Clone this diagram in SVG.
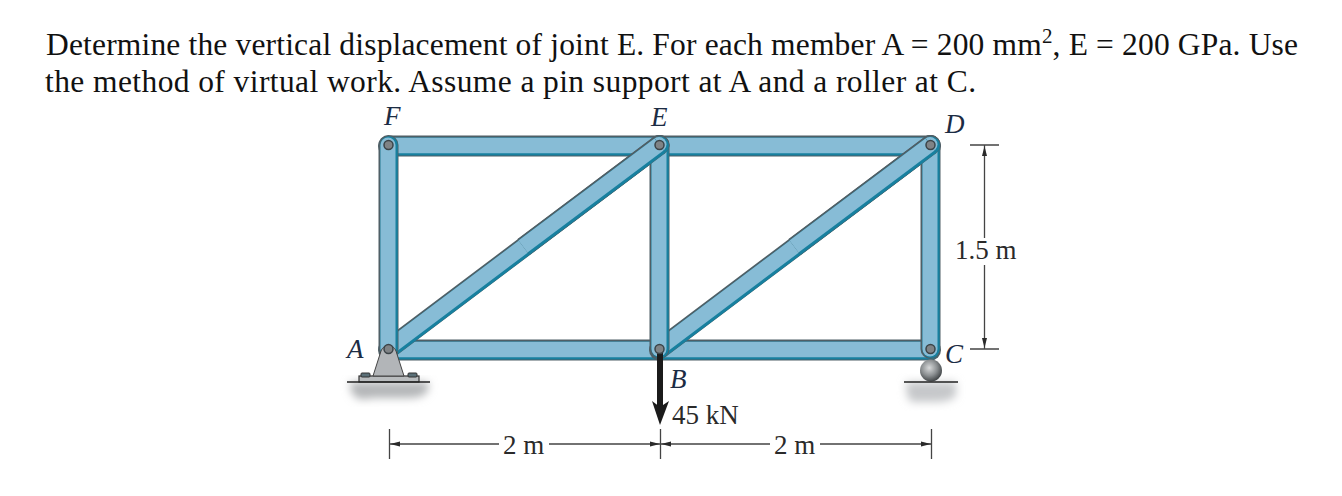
<svg xmlns="http://www.w3.org/2000/svg" width="1342" height="496" viewBox="0 0 1342 496">
<style>
text{font-family:"Liberation Serif","Times New Roman",serif;fill:#222}
.t{font-size:31.5px;fill:#111}
.l{font-size:27px;font-style:italic;fill:#1c2c44}
.d{font-size:27px;fill:#2a2a2a}
.o{stroke:#4f5f66;fill:none;stroke-linecap:round}
.m{stroke:#17809f;fill:none;stroke-linecap:round}
.h{stroke:#87bcd6;fill:none;stroke-linecap:round}
.b{stroke-linecap:butt}
.pin{fill:#7f8386;stroke:#3c4448;stroke-width:1.5}
.dim{stroke:#444;stroke-width:1.3;fill:none}
.ah{fill:#2a2a2a}
</style>
<defs>
<filter id="blur" x="-20%" y="-40%" width="140%" height="180%"><feGaussianBlur stdDeviation="4"/></filter>
<radialGradient id="ball" cx="42%" cy="38%" r="65%"><stop offset="0" stop-color="#d8dadb"/><stop offset="0.55" stop-color="#8b8f91"/><stop offset="1" stop-color="#3c4042"/></radialGradient>
<g id="hm"><path class="o" stroke-width="21" d="M0 0H271"/><path class="m" stroke-width="18" d="M0 0.5H271"/><path class="h" stroke-width="15.500" d="M0 -0.5H271"/></g>
<g id="vm"><path class="o" stroke-width="20" d="M0 0V204"/><path class="m" stroke-width="17.500" d="M0.500 0V204"/><path class="h" stroke-width="15" d="M-0.500 0V204"/></g>
<g id="dg"><path class="o" stroke-width="20" d="M0 0L271 -204"/><path class="m" stroke-width="18" d="M0.500 0.500L271.500 -203.500"/><path class="h" stroke-width="15" d="M-0.500 -0.500L270.500 -204.500"/></g>
<g id="dt"><circle cx="271" cy="-204" r="10" fill="#4f5f66"/><circle cx="271.500" cy="-203.500" r="9" fill="#17809f"/><circle cx="270.500" cy="-204.500" r="7.500" fill="#87bcd6"/><path class="o b" stroke-width="20" d="M135 -102L271 -204"/><path class="m b" stroke-width="18" d="M135.500 -101.500L271.500 -203.500"/><path class="h b" stroke-width="15" d="M134.500 -102.500L270.500 -204.500"/></g>
</defs>

<g id="title">
<text class="t" x="46" y="55" textLength="1252" lengthAdjust="spacing">Determine the vertical displacement of joint E. For each member A = 200 mm<tspan dy="-12" font-size="21">2</tspan><tspan dy="12">, E = 200 GPa. Use</tspan></text>
<text class="t" x="45" y="92" textLength="931" lengthAdjust="spacing">the method of virtual work. Assume a pin support at A and a roller at C.</text>
</g>

<g id="ground-shadows">
<path d="M350 382H428Q432 398 408 398H372Q350 404 350 382Z" fill="#b4b6b8" filter="url(#blur)"/>
<path d="M906 382H956V396Q950 402 935 402H915Q906 404 906 382Z" fill="#c6c8ca" filter="url(#blur)"/>
</g>

<g id="connectors">
<use href="#hm" x="388.5" y="146"/>
<use href="#hm" x="659.5" y="146"/>
<use href="#hm" x="388.5" y="350"/>
<use href="#hm" x="659.5" y="350"/>
<use href="#dg" x="388.5" y="349"/>
<use href="#dg" x="659.5" y="349"/>
<use href="#vm" x="388.5" y="145"/>
<use href="#vm" x="659.5" y="145"/>
<use href="#vm" x="930.5" y="145"/>
<use href="#dt" x="388.5" y="349"/>
<use href="#dt" x="659.5" y="349"/>
<path id="load" d="M660 349V412" stroke="#1b1b1b" stroke-width="6" fill="none"/>
<path d="M652 401L660 425L669 401L660 407Z" fill="#1b1b1b"/>
<g id="dims">
<path class="dim" d="M389.500 429V459M660.500 429V459M931.500 429V459"/>
<path class="dim" d="M390 444H499M549 444H660M661 444H770M820 444H931"/>
<path class="ah" d="M390 444L400 441.500V446.500ZM660 444L650 441.500V446.500ZM661 444L671 441.500V446.500ZM931 444L921 441.500V446.500Z"/>
<path class="dim" d="M970 145H999M970 349H999M984.500 145V238M984.500 265V349"/>
<path class="ah" d="M984.500 146L982 156H987ZM984.500 348L982 338H987Z"/>
</g>
</g>

<g id="node-F"><circle class="pin" cx="388.5" cy="145" r="4.500"/><text class="l" x="384" y="125">F</text></g>
<g id="node-E"><circle class="pin" cx="659.5" cy="145" r="4.500"/><text class="l" x="651" y="126">E</text></g>
<g id="node-D"><circle class="pin" cx="930.5" cy="145" r="4.500"/><text class="l" x="945" y="133">D</text></g>
<g id="node-A">
<rect x="359" y="376" width="60" height="6" fill="#b9bcbe" stroke="#333" stroke-width="1.2"/>
<rect x="361" y="373" width="9" height="4" rx="1" fill="#5b7078" stroke="#333"/>
<rect x="408" y="373" width="9" height="4" rx="1" fill="#5b7078" stroke="#333"/>
<path d="M373 376L381 351A8 8 0 0 1 396 351L404 376Z" fill="#b2b5b8" stroke="#444" stroke-width="1"/>
<path d="M347 382H430" stroke="#222" stroke-width="1.600"/>
<circle class="pin" cx="388.500" cy="349" r="4.500"/>
<text class="l" x="347" y="358">A</text>
</g>
<g id="node-B"><circle class="pin" cx="659.5" cy="349" r="4.500"/><text class="l" x="670" y="388">B</text><text class="d" x="672" y="424">45 kN</text></g>
<g id="node-C">
<circle cx="931" cy="370.500" r="11" fill="url(#ball)"/>
<path d="M904 382H958" stroke="#222" stroke-width="1.600"/>
<circle class="pin" cx="930.5" cy="349" r="4.500"/>
<text class="l" x="945" y="363">C</text>
</g>
<g id="dim-labels">
<text class="d" x="503" y="454">2 m</text>
<text class="d" x="774" y="454">2 m</text>
<text class="d" x="955" y="259">1.5 m</text>
</g>
</svg>
